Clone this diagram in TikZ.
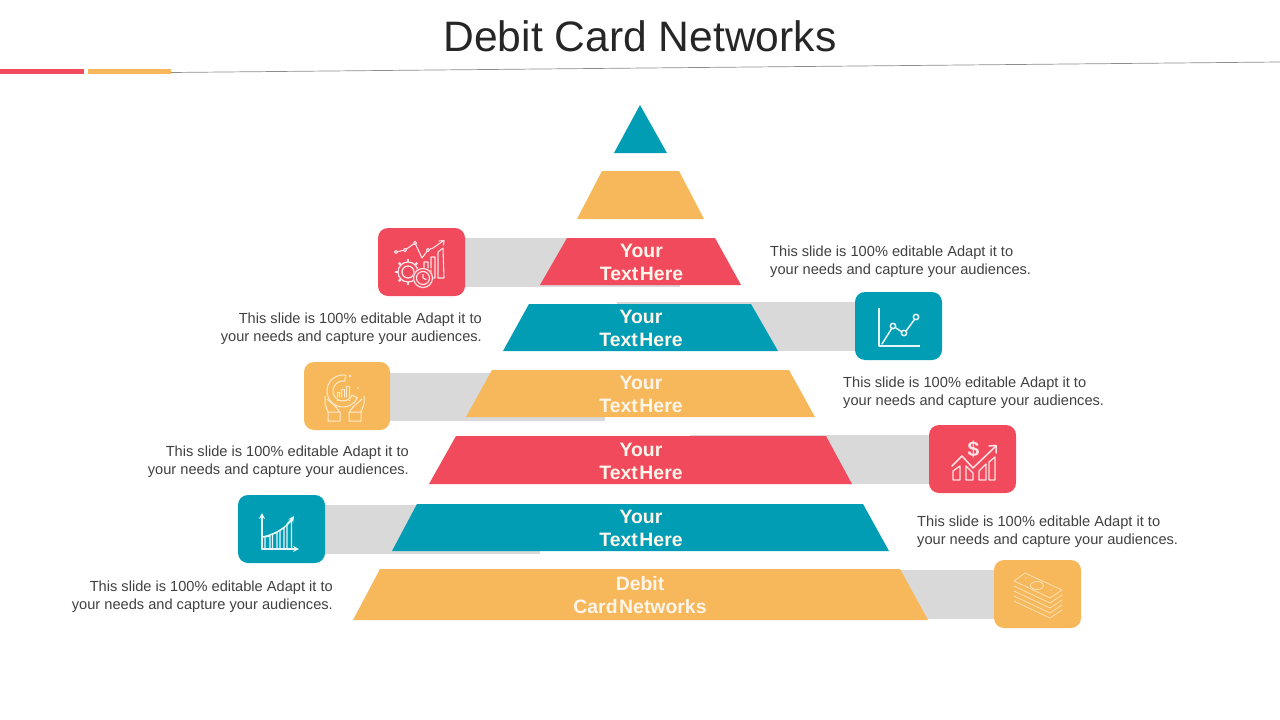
\documentclass[tikz,border=0pt]{standalone}
\usepackage{fontspec}
\setmainfont{Liberation Sans}
\newfontfamily\labfont[WordSpace=0.3]{Liberation Sans}
\usetikzlibrary{arrows.meta}
\definecolor{cred}{HTML}{F04A5C}
\definecolor{cteal}{HTML}{009DB4}
\definecolor{corange}{HTML}{F6B85A}
\definecolor{cgray}{HTML}{D9D9D9}
\definecolor{ctext}{HTML}{404040}
\definecolor{cline}{HTML}{FFEBD0}
\definecolor{cfaint}{HTML}{FBDDAE}
\definecolor{cpink}{HTML}{FDE3E6}
\tikzset{
  x=1pt,y=-1pt,
  bar/.style={fill=cgray,draw=none},
  tier/.style={draw=none},
  tile/.style={draw=none,rounded corners=10pt},
  glyph/.style={draw=white!90!cteal,line width=1.5pt,line join=round,line cap=round},
  soft/.style={draw=cline,line width=1pt,line join=round,line cap=round},
  faint/.style={draw=cfaint,line width=0.9pt,line join=round,line cap=round},
  pinkline/.style={draw=cpink,line width=1.1pt,line join=round,line cap=round},
  lab/.style={text=white!92!orange,font=\labfont\bfseries\fontsize{19.4}{23}\selectfont,align=center,inner sep=0pt},
  note/.style={text=ctext,font=\fontsize{14.62}{18}\selectfont,inner sep=0pt},
}
\begin{document}
\begin{tikzpicture}
\useasboundingbox (0,0) rectangle (1280,720);
% header
\node[text=black!85,font=\fontsize{42.6}{50}\selectfont,inner sep=0pt] (title) at (640,36.5) {Debit Card Networks};
\draw[draw=black!45,line width=0.7pt] (171,72.5) -- (1280,62);
\fill[cred] (0,69) rectangle (84,74);
\fill[corange] (88,69) rectangle (171,74);
% grey bars
\fill[bar] (450,238) rectangle (680,287);
\fill[bar] (617,302) rectangle (870,351);
\fill[bar] (375,373) rectangle (605,421);
\fill[bar] (690,435) rectangle (945,484);
\fill[bar] (310,505) rectangle (540,554);
\fill[bar] (760,570) rectangle (1010,619);
% tiers
\fill[tier,cteal] (640,105) -- (667,153) -- (614,153) -- cycle;
\fill[tier,corange] (602,171) -- (679,171) -- (704,219) -- (577,219) -- cycle;
\fill[tier,cred] (567,238) -- (715,238) -- (741,285) -- (540,285) -- cycle;
\fill[tier,cteal] (529,304) -- (751,304) -- (778,351) -- (503,351) -- cycle;
\fill[tier,corange] (492,370) -- (789,370) -- (815,417) -- (466,417) -- cycle;
\fill[tier,cred] (456,436) -- (826,436) -- (852,484) -- (429,484) -- cycle;
\fill[tier,cteal] (417,504) -- (863,504) -- (889,551) -- (392,551) -- cycle;
\fill[tier,corange] (380,569) -- (900,569) -- (928,620) -- (353,620) -- cycle;
% tier labels
\node[lab] (l3) at (641.5,262.2) {Your\\Text Here};
\node[lab] (l4) at (641,328.2) {Your\\Text Here};
\node[lab] (l5) at (641,394.2) {Your\\Text Here};
\node[lab] (l6) at (641,461.2) {Your\\Text Here};
\node[lab] (l7) at (641,528.2) {Your\\Text Here};
\node[lab] (l8) at (640,595.2) {Debit\\Card Networks};
% notes
\node[note,anchor=west,align=left] (n3) at (770,261.7) {This slide is 100\% editable Adapt it to\\your needs and capture your audiences.};
\node[note,anchor=east,align=right] (n4) at (482,328.7) {This slide is 100\% editable Adapt it to\\your needs and capture your audiences.};
\node[note,anchor=west,align=left] (n5) at (843,392.7) {This slide is 100\% editable Adapt it to\\your needs and capture your audiences.};
\node[note,anchor=east,align=right] (n6) at (409,461.7) {This slide is 100\% editable Adapt it to\\your needs and capture your audiences.};
\node[note,anchor=west,align=left] (n7) at (917,531.7) {This slide is 100\% editable Adapt it to\\your needs and capture your audiences.};
\node[note,anchor=east,align=right] (n8) at (333,596.7) {This slide is 100\% editable Adapt it to\\your needs and capture your audiences.};
% tiles
\fill[tile,cred] (378,228) rectangle (465,296);
\fill[tile,cteal] (855,292) rectangle (942,360);
\fill[tile,corange] (304,362) rectangle (390,430);
\fill[tile,cred] (929,425) rectangle (1016,493);
\fill[tile,cteal] (238,495) rectangle (325,563);
\fill[tile,corange] (994,560) rectangle (1081,628);
% icon 1: trend, gear, clock
\draw[pinkline] (396,252) -- (405,250) -- (415,243) -- (422,258) -- (428,250) -- (433,248) -- (443,241);
\draw[pinkline] (439,241) -- (444,240.5) -- (443.5,245);
\foreach \p in {(396,252),(405,250),(415,243),(428,250)} {\fill[cred] \p circle (1.6); \draw[pinkline] \p circle (1.6);}
\draw[pinkline] (424,268) -- (424,262) -- (428,262) -- (428,268) (431,268) -- (431,257) -- (435,257) -- (435,278) -- (431,278) -- (431,270)
  (438,278) -- (438,252) -- (443,248) -- (444,278) -- cycle;
\draw[pinkline,line width=1.3pt] (408,272) circle (10) (408,272) circle (6);
\foreach \a in {0,45,...,315} \draw[pinkline,line width=2.4pt,line cap=butt] (408,272) ++(\a:10) -- ++(\a:3);
\fill[cred] (423,278) circle (10.5);
\draw[pinkline,line width=1.2pt] (423,278) circle (9.5) (423,278) circle (6.5) (423,274.5) -- (423,278) -- (426,279.5);
% icon 2: line chart
\draw[glyph,line width=2pt,line cap=butt] (879,308) -- (879,346) -- (920,346);
\draw[glyph] (882,344) -- (892,328) (896,328) -- (902,332) (906,331) -- (914.5,319.5);
\draw[glyph] (893,326) circle (2.7) (904,333) circle (2.7) (916,317) circle (2.7);
% icon 3: hands and crescent
\draw[soft] (343,391) ++(-80:16) arc[start angle=-80,end angle=-335,radius=16] -- ++(-335:-6) arc[start angle=-335,end angle=-80,radius=10] -- cycle;
\draw[soft] (337,397) -- (337,392) -- (339.5,392) -- (339.5,397) (341.5,397) -- (341.5,389) -- (344,389) -- (344,397) (346,397) -- (346,386) -- (349.5,386) -- (349.5,397);
\draw[soft,dotted] (337,400) -- (351,400);
\fill[cline] (350,376) circle (1.4) (358,388) circle (0.9);
\draw[soft] (325,396) -- (325,404) -- (328,412) (327,399) .. controls (331,403) and (336,406) .. (339,411) -- (340,412) (328,412) -- (340,412) -- (340,421) -- (328,421) -- cycle;
\draw[soft] (364,396) -- (364,404) -- (361,412) (362,399) .. controls (358,403) and (353,406) .. (350,411) -- (349,412) (349,412) -- (361,412) -- (361,421) -- (349,421) -- cycle;
% icon 4: dollar and arrow
\node[text=cpink,font=\bfseries\fontsize{21}{21}\selectfont,inner sep=0pt] (dollar) at (973.5,449) {\$};
\draw[pinkline,line width=1.5pt] (952,466) -- (962,456) -- (973,468) -- (996,446);
\draw[pinkline,line width=1.5pt] (989,446) -- (996,445.5) -- (996,453);
\draw[pinkline,line width=1.3pt] (953,480) -- (953,471) -- (960,466) -- (960,480) -- cycle
  (966,480) -- (966,466) -- (973,473) -- (973,480) -- cycle
  (979,480) -- (979,471) -- (986,464) -- (986,480) -- cycle
  (989,480) -- (989,462) -- (995,457) -- (995,480) -- cycle;
% icon 5: bar chart with axes
\draw[glyph,-{Stealth[length=6pt,width=6pt]}] (262,549) -- (262,513);
\draw[glyph,-{Stealth[length=6pt,width=6pt]}] (262,549) -- (299,549);
\draw[glyph,-{Stealth[length=6pt,width=6pt]}] (263,537) .. controls (276,534) and (286,528) .. (294,516);
\draw[glyph,line width=1.1pt] (265,548) -- (265,537) -- (270,536) -- (270,548)
  (272.5,548) -- (272.5,534) -- (277,532.5) -- (277,548)
  (280,548) -- (280,530) -- (284,527.5) -- (284,548)
  (287,548) -- (287,524) -- (291.5,519) -- (291.5,548);
% icon 6: stack of bills
\foreach \d in {20,15,10,5} \draw[faint] (1014,{581+\d}) -- (1050,{598+\d}) -- (1062,{590+\d});
\draw[faint] (1025,573) -- (1062,590) -- (1050,598) -- (1014,581) -- cycle;
\draw[faint] (1037,585.5) ellipse (6.5 and 4);
\fill[cfaint] (1026,578) circle (0.9) (1051,590) circle (0.9);
\end{tikzpicture}
\end{document}
